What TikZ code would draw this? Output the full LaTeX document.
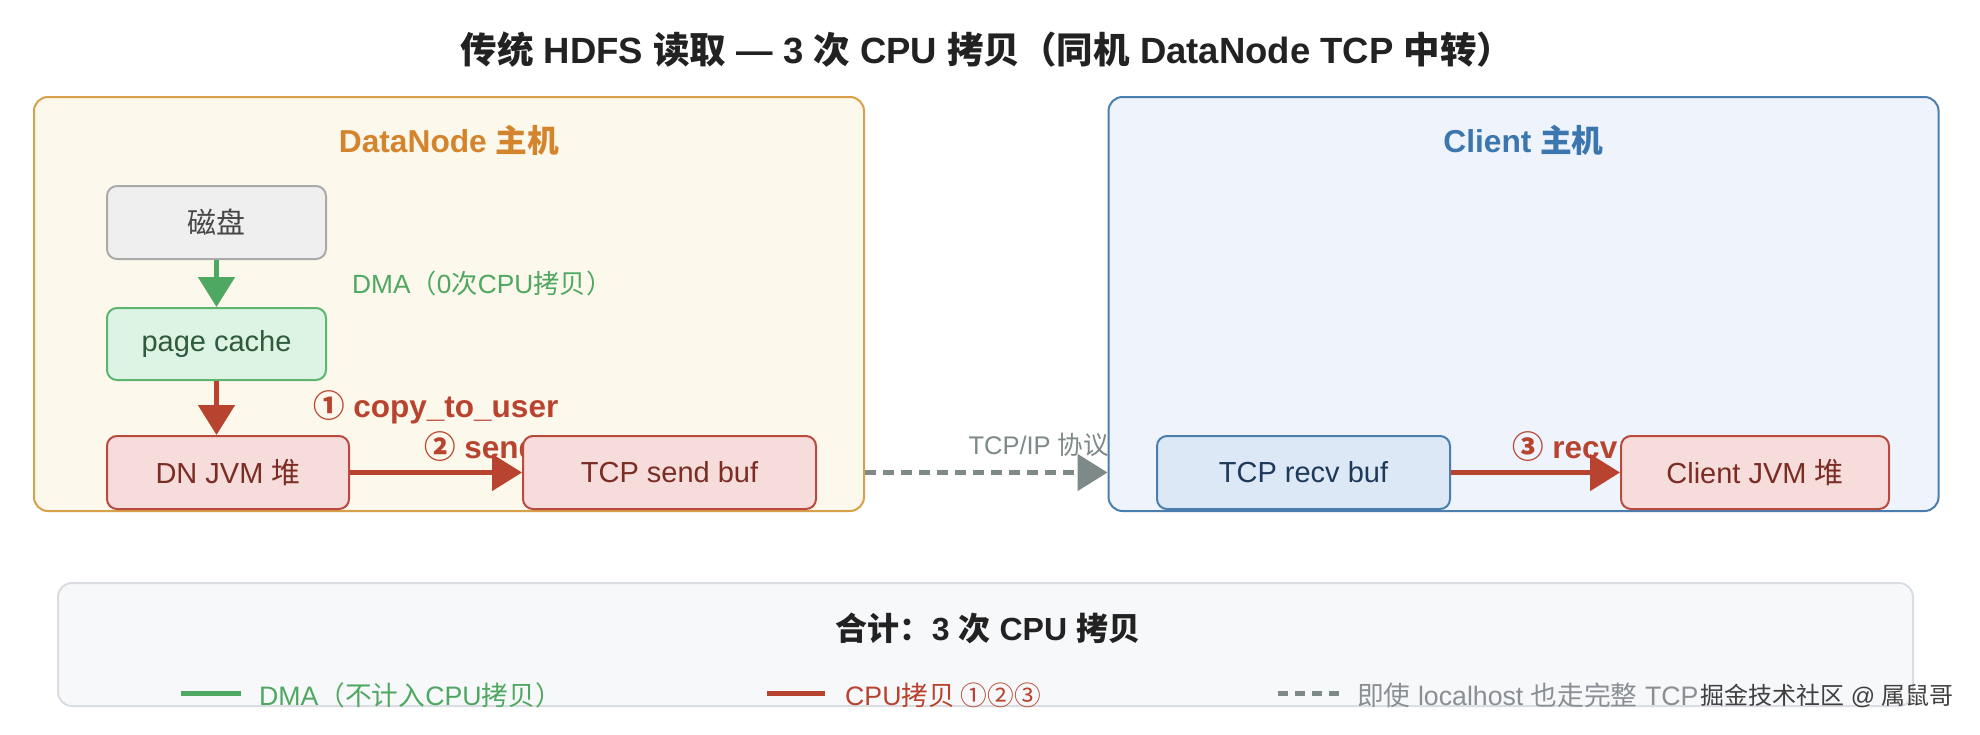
\documentclass[tikz,border=0pt]{standalone}
\usepackage{fontspec}
\setmainfont{Liberation Sans}
\newfontfamily\cjk{Noto Sans CJK SC}
\newcommand\zh[1]{{\cjk #1}}
\newcommand\fsz[1]{\fontsize{#1}{#1}\selectfont}
\usetikzlibrary{arrows.meta}
\definecolor{dnfill}{HTML}{FDF8EC}
\definecolor{dnline}{HTML}{D9A04A}
\definecolor{dntext}{HTML}{D4842C}
\definecolor{clfill}{HTML}{EEF3FC}
\definecolor{clline}{HTML}{4A7EAE}
\definecolor{cltext}{HTML}{3B77AE}
\definecolor{diskfill}{HTML}{EFEFEF}
\definecolor{diskline}{HTML}{AAAAAA}
\definecolor{pcfill}{HTML}{DDF3E3}
\definecolor{pcline}{HTML}{5DB570}
\definecolor{pctext}{HTML}{2F5A3B}
\definecolor{redfill}{HTML}{F6DCDA}
\definecolor{redline}{HTML}{B84A3E}
\definecolor{redtext}{HTML}{7B2D24}
\definecolor{bluefill}{HTML}{DCE8F5}
\definecolor{bluetext}{HTML}{1E3A5A}
\definecolor{arrgreen}{HTML}{4FA862}
\definecolor{arrred}{HTML}{B8432F}
\definecolor{arrgray}{HTML}{7E8A89}
\definecolor{sumfill}{HTML}{F7F8FA}
\definecolor{sumline}{HTML}{DADDE1}
\definecolor{legendgray}{HTML}{8A8F94}
\definecolor{titlecol}{HTML}{222222}
\tikzset{
  host/.style={draw, rounded corners=14pt, line width=2pt, inner sep=0pt},
  membox/.style={draw, rounded corners=10pt, line width=2pt, inner sep=0pt,
    minimum height=73pt, font=\fsz{29}},
  flowarrow/.style={line width=5pt, -{Triangle[length=30pt,width=36pt]}},
  legline/.style={line width=5pt},
}
\begin{document}
\begin{tikzpicture}[x=1pt,y=-1pt]
\useasboundingbox (0,0) rectangle (1980,734);
\fill[white] (0,0) rectangle (1980,734);

% title
\node[font=\fsz{36.5}\bfseries, text=titlecol] (title) at (987,50)
  {\zh{传统} HDFS \zh{读取} — 3 \zh{次} CPU \zh{拷贝（同机} DataNode TCP \zh{中转）}};

% host boxes
\node[host, fill=dnfill, draw=dnline, minimum width=830pt, minimum height=414pt] (dn) at (449,304) {};
\node[host, fill=clfill, draw=clline, minimum width=830pt, minimum height=414pt] (cl) at (1523.5,304) {};
\node[font=\fsz{31.7}\bfseries, text=dntext] (dntitle) at (449,140) {DataNode \zh{主机}};
\node[font=\fsz{31.7}\bfseries, text=cltext] (cltitle) at (1523.5,140) {Client \zh{主机}};

% summary box
\node[draw=sumline, fill=sumfill, rounded corners=14pt, line width=2pt, inner sep=0pt,
  minimum width=1855pt, minimum height=123pt] (sum) at (985.5,644.5) {};
\node[font=\fsz{32}\bfseries, text=titlecol] (sumtitle) at (988,628) {\zh{合计：}3 \zh{次} CPU \zh{拷贝}};

% labels (drawn before nodes so nodes may cover them)
\node[font=\fsz{26.3}, text=arrgreen, anchor=west, inner sep=0pt] (dmalbl) at (352,283)
  {DMA\zh{（}0\zh{次}CPU\zh{拷贝）}};
\node[font=\fsz{31.5}\bfseries, text=arrred, anchor=west, inner sep=0pt] (l1) at (313,407)
  {\zh{①} copy\_to\_user};
\node[font=\fsz{31.5}\bfseries, text=arrred, anchor=west, inner sep=0pt] (l2) at (424,447)
  {\zh{②} send};
\node[font=\fsz{31.5}\bfseries, text=arrred, anchor=west, inner sep=0pt] (l3) at (1512,447)
  {\zh{③} recv};
\node[font=\fsz{25.5}, text=arrgray, anchor=east, inner sep=0pt] (tcplbl) at (1109,445)
  {TCP/IP \zh{协议}};

% memory nodes
\node[membox, fill=diskfill, draw=diskline, text=black!72, minimum width=219pt] (disk) at (216.5,222.5) {\zh{磁盘}};
\node[membox, fill=pcfill, draw=pcline, text=pctext, minimum width=219pt, minimum height=72pt] (pc) at (216.5,344) {page cache};
\node[membox, fill=redfill, draw=redline, text=redtext, minimum width=242pt] (jvm) at (228,472.5) {DN JVM \zh{堆}};
\node[membox, fill=redfill, draw=redline, text=redtext, minimum width=293pt] (sbuf) at (669.5,472.5) {TCP send buf};
\node[membox, fill=bluefill, draw=clline, text=bluetext, minimum width=293pt] (rbuf) at (1303.5,472.5) {TCP recv buf};
\node[membox, fill=redfill, draw=redline, text=redtext, minimum width=268pt] (cjvm) at (1755,472.5) {Client JVM \zh{堆}};

% arrows
\draw[flowarrow, arrgreen] (disk.south) -- (pc.north);
\draw[flowarrow, arrred] (pc.south) -- (pc.south |- jvm.north);
\draw[flowarrow, arrred] (jvm.east) -- (sbuf.west);
\draw[flowarrow, arrred] (rbuf.east) -- (cjvm.west);
\draw[flowarrow, arrgray, dash pattern=on 11pt off 7pt] (dn.east |- sbuf.center) -- (cl.west |- sbuf.center);

% legend
\coordinate (g1) at (181,693); \coordinate (g2) at (241,693);
\draw[legline, arrgreen] (g1) -- (g2);
\node[font=\fsz{26.7}, text=arrgreen, anchor=west, inner sep=0pt] (lg1) at (259,695) {DMA\zh{（不计入}CPU\zh{拷贝）}};
\coordinate (r1) at (767,693); \coordinate (r2) at (825,693);
\draw[legline, arrred] (r1) -- (r2);
\node[font=\fsz{26.7}, text=arrred, anchor=west, inner sep=0pt] (lg2) at (845,695) {CPU\zh{拷贝 ①②③}};
\coordinate (d1) at (1278,693); \coordinate (d2) at (1339,693);
\draw[legline, arrgray, dash pattern=on 10pt off 7pt] (d1) -- (d2);
\node[font=\fsz{26.7}, text=legendgray, anchor=west, inner sep=0pt] (lg3) at (1357,695) {\zh{即使} localhost \zh{也走完整} TCP};

% watermark
\node[font=\fsz{24}, text=black!75, anchor=west, inner sep=0pt] (wm) at (1700,696) {\zh{掘金技术社区} @ \zh{属鼠哥}};
\end{tikzpicture}
\end{document}
